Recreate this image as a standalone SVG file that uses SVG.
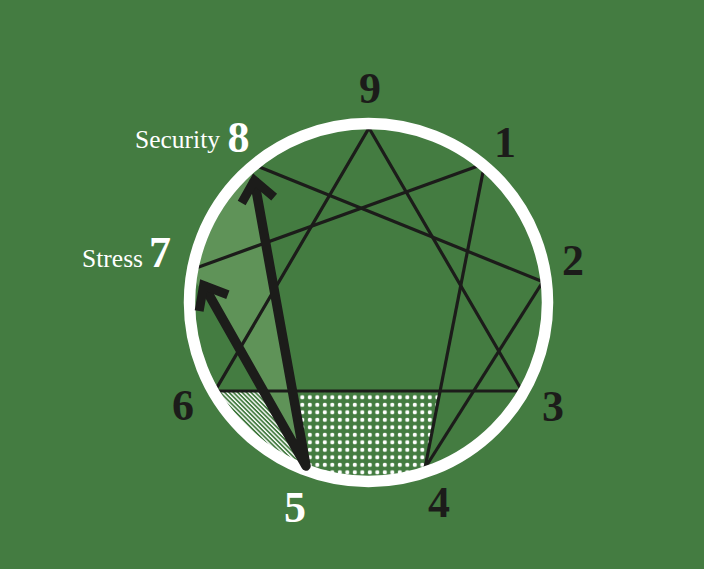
<svg xmlns="http://www.w3.org/2000/svg" width="704" height="569" viewBox="0 0 704 569">
  <style>
    .num { font-family: "Liberation Serif", "Times New Roman", serif; font-weight: bold; font-size: 44px; text-anchor: middle; }
    .dark { fill: #1c1c1a; }
    .light { fill: #ffffff; }
    .word { font-family: "Liberation Serif", "Times New Roman", serif; font-size: 25.5px; fill: #ffffff; text-anchor: end; }
    .thin { stroke: #1c1c1a; stroke-width: 3.2; fill: none; stroke-linecap: butt; }
    .arrow { stroke: #1c1c1a; stroke-width: 9.5; fill: none; stroke-linecap: butt; stroke-linejoin: round; marker-start: url(#head); marker-end: url(#head); }
  </style>
  <defs>
    <marker id="head" markerUnits="userSpaceOnUse" orient="auto-start-reverse" markerWidth="60" markerHeight="60" refX="0" refY="0" viewBox="-30 -30 60 60" overflow="visible">
      <path d="M-21.5,-16.5 L-1.5,0 L-21.5,16.5" fill="none" stroke="#1c1c1a" stroke-width="9" stroke-linejoin="miter" stroke-miterlimit="6"/>
    </marker>
    <pattern id="dots" patternUnits="userSpaceOnUse" x="-1.45" y="-3.95" width="7.5" height="7.5">
      <circle cx="3.75" cy="3.75" r="2.1" fill="#ffffff"/>
    </pattern>
    <pattern id="hatch" patternUnits="userSpaceOnUse" width="3.1" height="10" patternTransform="rotate(-45)">
      <rect x="0" y="0" width="1.35" height="10" fill="#ffffff"/>
    </pattern>
  </defs>

  <rect x="0" y="0" width="704" height="569" fill="#447c41"/>

  <!-- shaded regions -->
  <path d="M306,467 L253,173 A175,175 0 0 0 196,282 Z" fill="#5f9358"/>
  <path d="M214,391 L263,391 L306,467 A175,175 0 0 1 214,391 Z" fill="url(#hatch)"/>
  <path d="M292,391 L439,391 L425,467 A175,175 0 0 1 306,467 Z" fill="url(#dots)"/>

  <g id="connectors">
    <!-- triangle 9-3-6 -->
    <path class="thin" d="M369,128 L522,391 L215,391 Z" stroke-linejoin="miter"/>
    <!-- hexad lines -->
    <line class="thin" x1="483" y1="172" x2="425" y2="468"/>
    <line class="thin" x1="425" y1="468" x2="542" y2="283"/>
    <line class="thin" x1="541" y1="281" x2="257" y2="166"/>
    <line class="thin" x1="478" y1="166" x2="196" y2="268"/>
  </g>

  <circle cx="368.5" cy="302.5" r="179" fill="none" stroke="#ffffff" stroke-width="11.5"/>

  <g id="arrows">
    <path class="arrow" d="M202.9,284.2 L306,466 L254.1,178.9"/>
  </g>

  <g id="node-9"><text class="num dark" x="370" y="103">9</text></g>
  <g id="node-1"><text class="num dark" x="505" y="157">1</text></g>
  <g id="node-2"><text class="num dark" x="573" y="275">2</text></g>
  <g id="node-3"><text class="num dark" x="553" y="421">3</text></g>
  <g id="node-4"><text class="num dark" x="439" y="517">4</text></g>
  <g id="node-5"><text class="num light" x="295" y="522">5</text></g>
  <g id="node-6"><text class="num dark" x="183" y="420">6</text></g>
  <g id="node-7">
    <text class="word" x="143" y="267">Stress</text>
    <text class="num light" x="160" y="267">7</text>
  </g>
  <g id="node-8">
    <text class="word" x="220" y="148">Security</text>
    <text class="num light" x="238.5" y="152">8</text>
  </g>
</svg>
